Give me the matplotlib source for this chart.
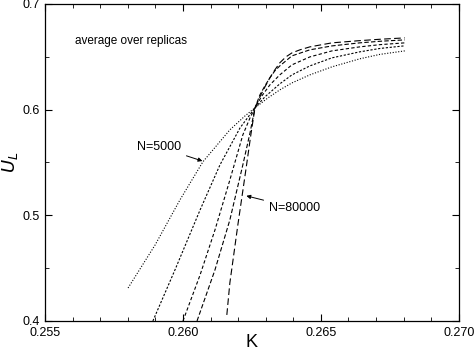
import numpy as np
import matplotlib
matplotlib.use('Agg')
import matplotlib.pyplot as plt
from matplotlib.ticker import MultipleLocator

plt.rcParams['font.family'] = ['Liberation Sans', 'DejaVu Sans']

# curves (K, U_L)
k_5000 = [0.25801, 0.25899, 0.25989, 0.26072, 0.26170, 0.26225, 0.26261, 0.26308, 0.26351,
          0.26395, 0.26460, 0.26540, 0.26641, 0.26714, 0.26804]
u_5000 = [0.4312, 0.4719, 0.5145, 0.5505, 0.5808, 0.5940, 0.6016, 0.6110, 0.6186,
          0.6252, 0.6328, 0.6404, 0.6480, 0.6522, 0.6555]

k_10000 = [0.25891, 0.25971, 0.26062, 0.26134, 0.26207, 0.26261, 0.26297, 0.26351, 0.26395,
           0.26460, 0.26540, 0.26641, 0.26714, 0.26804]
u_10000 = [0.4000, 0.4483, 0.5050, 0.5476, 0.5827, 0.6016, 0.6120, 0.6243, 0.6328,
           0.6413, 0.6489, 0.6546, 0.6578, 0.6603]

k_20000 = [0.26000, 0.26062, 0.26116, 0.26170, 0.26217, 0.26243, 0.26261, 0.26286, 0.26315,
           0.26351, 0.26395, 0.26460, 0.26540, 0.26641, 0.26714, 0.26804]
u_20000 = [0.4000, 0.4435, 0.4861, 0.5334, 0.5760, 0.5921, 0.6016, 0.6129, 0.6233,
           0.6328, 0.6423, 0.6498, 0.6555, 0.6593, 0.6614, 0.6631]

k_40000 = [0.26051, 0.26116, 0.26170, 0.26217, 0.26243, 0.26261, 0.26279, 0.26297, 0.26315,
           0.26333, 0.26351, 0.26395, 0.26460, 0.26540, 0.26641, 0.26714, 0.26804]
u_40000 = [0.4000, 0.4483, 0.4956, 0.5476, 0.5779, 0.6016, 0.6139, 0.6224, 0.6300,
           0.6366, 0.6413, 0.6508, 0.6565, 0.6602, 0.6631, 0.6646, 0.6659]

k_80000 = [0.26159, 0.26170, 0.26199, 0.26228, 0.26246, 0.26261, 0.26279, 0.26297, 0.26315,
           0.26333, 0.26351, 0.26373, 0.26395, 0.26424, 0.26460, 0.26540, 0.26641, 0.26714, 0.26804]
u_80000 = [0.4057, 0.4360, 0.4909, 0.5429, 0.5760, 0.6016, 0.6120, 0.6214, 0.6300,
           0.6375, 0.6442, 0.6498, 0.6536, 0.6565, 0.6593, 0.6631, 0.6652, 0.6665, 0.6678]

fig = plt.figure(figsize=(4.74, 3.5), dpi=100)
ax = fig.add_axes([0.095, 0.083, 0.873, 0.906])

ax.plot(k_5000, u_5000, color='black', lw=0.8, ls=(0, (1, 1.5)))
ax.plot(k_10000, u_10000, color='black', lw=0.8, ls=(0, (2, 1.5)))
ax.plot(k_20000, u_20000, color='black', lw=0.8, ls=(0, (3, 2)))
ax.plot(k_40000, u_40000, color='black', lw=0.8, ls=(0, (4, 2)))
ax.plot(k_80000, u_80000, color='black', lw=0.8, ls=(0, (6, 3)))

ax.set_xlim(0.255, 0.270)
ax.set_ylim(0.4, 0.7)
ax.set_xticks([0.255, 0.260, 0.265, 0.270])
ax.set_yticks([0.4, 0.5, 0.6, 0.7])
ax.xaxis.set_minor_locator(MultipleLocator(0.001))
ax.yaxis.set_minor_locator(MultipleLocator(0.05))
ax.tick_params(which='both', direction='in', top=True, right=True, labelsize=9)
ax.tick_params(axis='x', which='major', pad=4.5)
ax.tick_params(which='major', length=5, width=0.8)
ax.tick_params(which='minor', length=3, width=0.6)
for s in ax.spines.values():
    s.set_linewidth(0.9)

ax.set_xlabel('K', fontsize=13, labelpad=-4)
ax.set_ylabel('$U_L$', fontsize=13, labelpad=2)

ax.text(0.2561, 0.665, 'average over replicas', fontsize=8.5, va='center')
ax.annotate('N=5000', xy=(0.26080, 0.5505), xytext=(0.25833, 0.5647),
            fontsize=9, va='center',
            arrowprops=dict(arrowstyle='-|>', color='black', lw=0.7, mutation_scale=6))
ax.annotate('N=80000', xy=(0.26220, 0.519), xytext=(0.26312, 0.5069),
            fontsize=9, va='center',
            arrowprops=dict(arrowstyle='-|>', color='black', lw=0.7, mutation_scale=6))

fig.savefig('out.png', dpi=100)
